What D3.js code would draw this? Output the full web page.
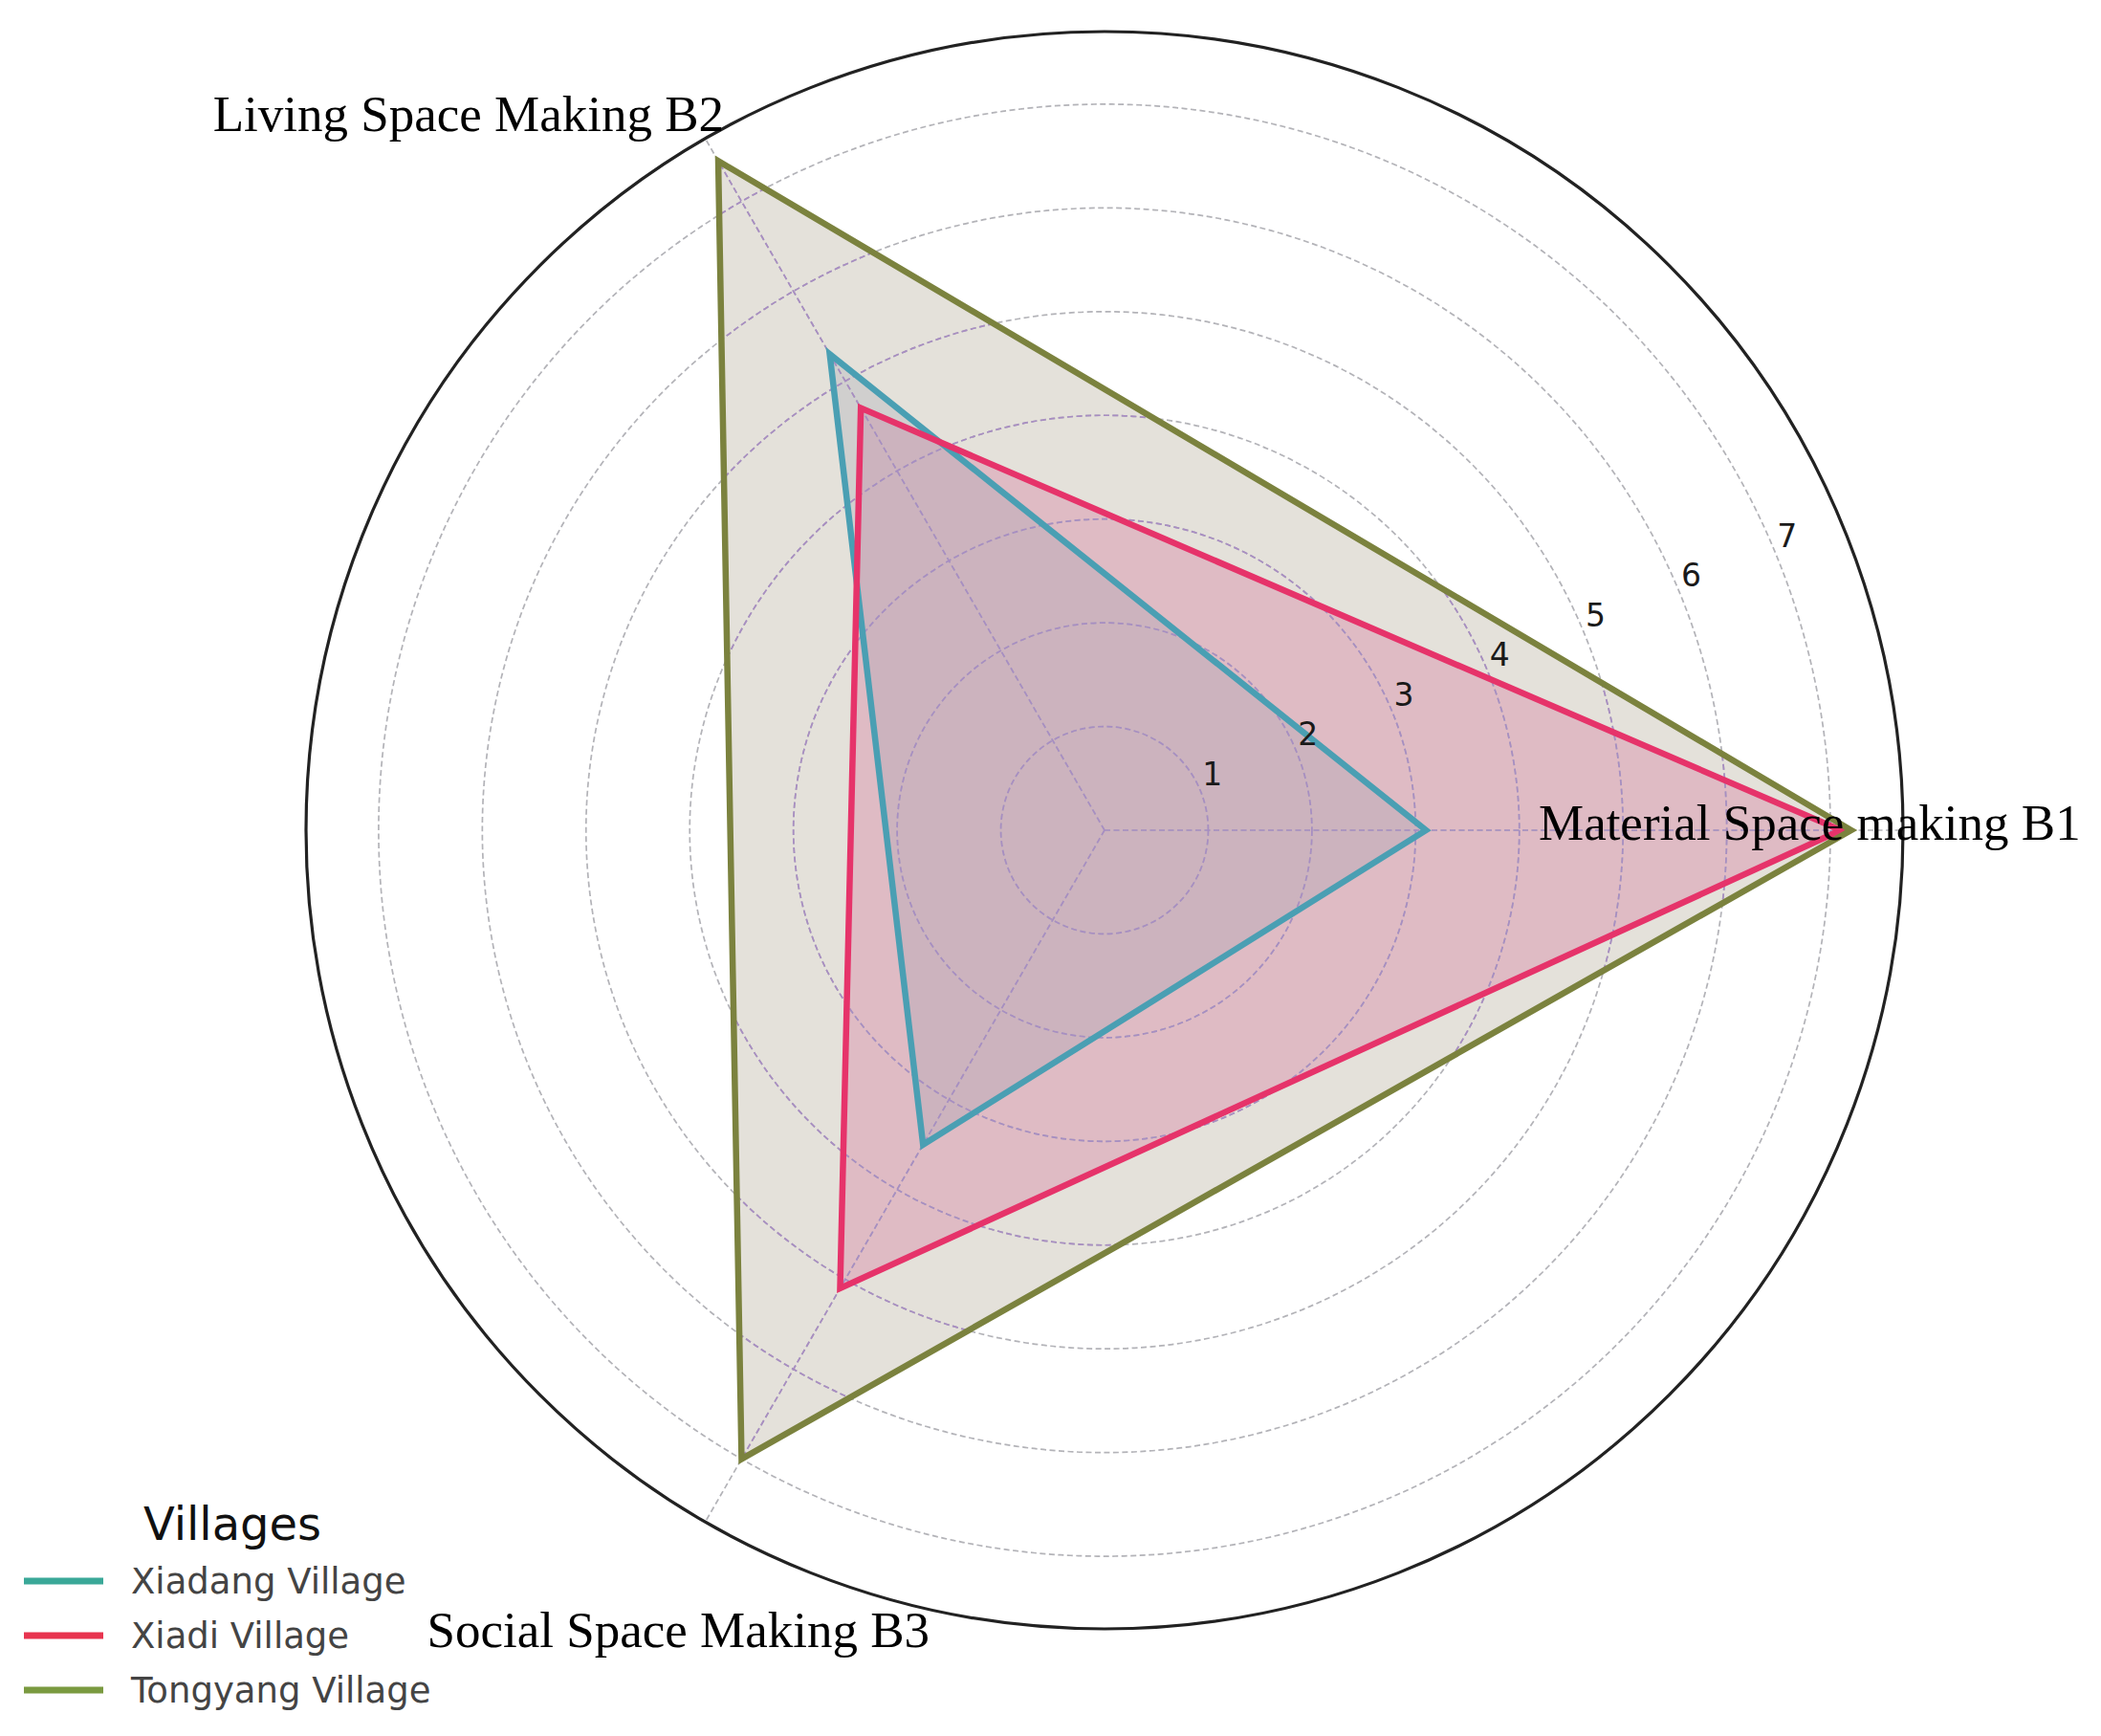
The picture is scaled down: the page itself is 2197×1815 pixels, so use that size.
<!DOCTYPE html>
<html>
<head>
<meta charset="utf-8">
<script src="https://cdn.jsdelivr.net/npm/d3@7"></script>
<style>
    body { margin: 0; background: #ffffff; }
</style>
</head>
<body>
<script>
// Data
const categories = ["Material Space making B1", "Living Space Making B2", "Social Space Making B3"];
const seriesNames = ["Xiadang Village", "Xiadi Village", "Tongyang Village"];
const xiadangValues = [3.1, 5.3, 3.5];
const xiadiValues = [7.1, 4.7, 5.1];
const tongyangValues = [7.2, 7.45, 7.0];
const radialTicks = [1, 2, 3, 4, 5, 6, 7];
const rMax = 7.7;

const lineColors = ["#4a9fb3", "#e6336a", "#7b823e"];
const fillColors = ["#939cac", "#d04d82", "#93876b"];
const legendColors = ["#3aa898", "#e8344f", "#7a9a40"];

// layout
const width = 2197, height = 1815;
const cx = 1155, cy = 868, radius = 835;

const series = seriesNames.map(function (name, i) {
    return {
        name: name,
        values: [xiadangValues, xiadiValues, tongyangValues][i],
        line: lineColors[i],
        fill: fillColors[i],
        legend: legendColors[i]
    };
});

const svg = d3.select("body")
    .append("svg")
    .attr("width", width)
    .attr("height", height)
    .style("display", "block");

const r = d3.scaleLinear().domain([0, rMax]).range([0, radius]);

// matplotlib style: theta = 0 at east, counter-clockwise
function theta(i) { return i * 2 * Math.PI / categories.length; }

const radar = d3.lineRadial()
    .angle(function (d, i) { return Math.PI / 2 - theta(i); })
    .radius(function (d) { return r(d); })
    .curve(d3.curveLinearClosed);

const g = svg.append("g").attr("transform", "translate(" + cx + "," + cy + ")");

// clip for the tinted grid inside the outer polygon
g.append("clipPath")
    .attr("id", "insideClip")
    .append("path")
    .attr("d", radar(tongyangValues));

// fills (largest first)
g.selectAll("path.area")
    .data(series.slice().reverse())
    .enter()
    .append("path")
    .attr("class", "area")
    .attr("d", function (d) { return radar(d.values); })
    .style("fill", function (d) { return d.fill; })
    .style("fill-opacity", 0.25)
    .style("stroke", "none");

// grid, drawn twice: grey outside, purple inside the filled area
function drawGrid(parent, color) {
    parent.selectAll("circle.ring")
        .data(radialTicks)
        .enter()
        .append("circle")
        .attr("class", "ring")
        .attr("r", function (d) { return r(d); })
        .style("fill", "none")
        .style("stroke", color)
        .style("stroke-width", 1.7)
        .style("stroke-dasharray", "6,3.5");

    parent.selectAll("line.spoke")
        .data(categories)
        .enter()
        .append("line")
        .attr("class", "spoke")
        .attr("x1", 0)
        .attr("y1", 0)
        .attr("x2", function (d, i) { return radius * Math.cos(theta(i)); })
        .attr("y2", function (d, i) { return -radius * Math.sin(theta(i)); })
        .style("stroke", color)
        .style("stroke-width", 1.7)
        .style("stroke-dasharray", "6,3.5");
}
drawGrid(g.append("g"), "#b3b3b8");
drawGrid(g.append("g").attr("clip-path", "url(#insideClip)"), "#a88dc2");

// outlines
g.selectAll("path.outline")
    .data(series)
    .enter()
    .append("path")
    .attr("class", "outline")
    .attr("d", function (d) { return radar(d.values); })
    .style("fill", "none")
    .style("stroke", function (d) { return d.line; })
    .style("stroke-width", 6.5)
    .style("stroke-linejoin", "miter")
    .style("stroke-miterlimit", 10);

// outer frame
g.append("circle")
    .attr("r", radius)
    .style("fill", "none")
    .style("stroke", "#222222")
    .style("stroke-width", 3.2);

// radial tick labels at 22.5 degrees
const labelAngle = 22.5 * Math.PI / 180;
g.selectAll("text.rtick")
    .data(radialTicks)
    .enter()
    .append("text")
    .attr("class", "rtick")
    .attr("x", function (d) { return r(d) * Math.cos(labelAngle) + 2; })
    .attr("y", function (d) { return -r(d) * Math.sin(labelAngle) - 6; })
    .text(function (d) { return d; })
    .attr("font-family", "DejaVu Sans")
    .attr("font-size", "33px")
    .attr("fill", "#1a1a1a");

// category labels
const labelLayout = [
    {dx: 454, dy: 10, anchor: "start"},
    {dx: -398, dy: -731, anchor: "end"},
    {dx: -183, dy: 854, anchor: "end"}
];
g.selectAll("text.cat")
    .data(categories)
    .enter()
    .append("text")
    .attr("class", "cat")
    .attr("x", function (d, i) { return labelLayout[i].dx; })
    .attr("y", function (d, i) { return labelLayout[i].dy; })
    .attr("text-anchor", function (d, i) { return labelLayout[i].anchor; })
    .text(function (d) { return d; })
    .attr("font-family", "Liberation Serif")
    .attr("font-size", "53px")
    .attr("fill", "#000000");

// legend
const legend = svg.append("g").attr("transform", "translate(25,1653)");
legend.append("text")
    .attr("x", 218)
    .attr("y", -43)
    .attr("text-anchor", "middle")
    .text("Villages")
    .attr("font-family", "DejaVu Sans")
    .attr("font-size", "48px")
    .attr("fill", "#111111");

const items = legend.selectAll("g.item")
    .data(series)
    .enter()
    .append("g")
    .attr("class", "item")
    .attr("transform", function (d, i) { return "translate(0," + (i * 57) + ")"; });

items.append("line")
    .attr("x1", 0)
    .attr("x2", 83)
    .attr("y1", 0)
    .attr("y2", 0)
    .style("stroke", function (d) { return d.legend; })
    .style("stroke-width", 7);

items.append("text")
    .attr("x", 112)
    .attr("y", 13)
    .text(function (d) { return d.name; })
    .attr("font-family", "DejaVu Sans")
    .attr("font-size", "37px")
    .attr("fill", "#444444");
</script>
</body>
</html>
